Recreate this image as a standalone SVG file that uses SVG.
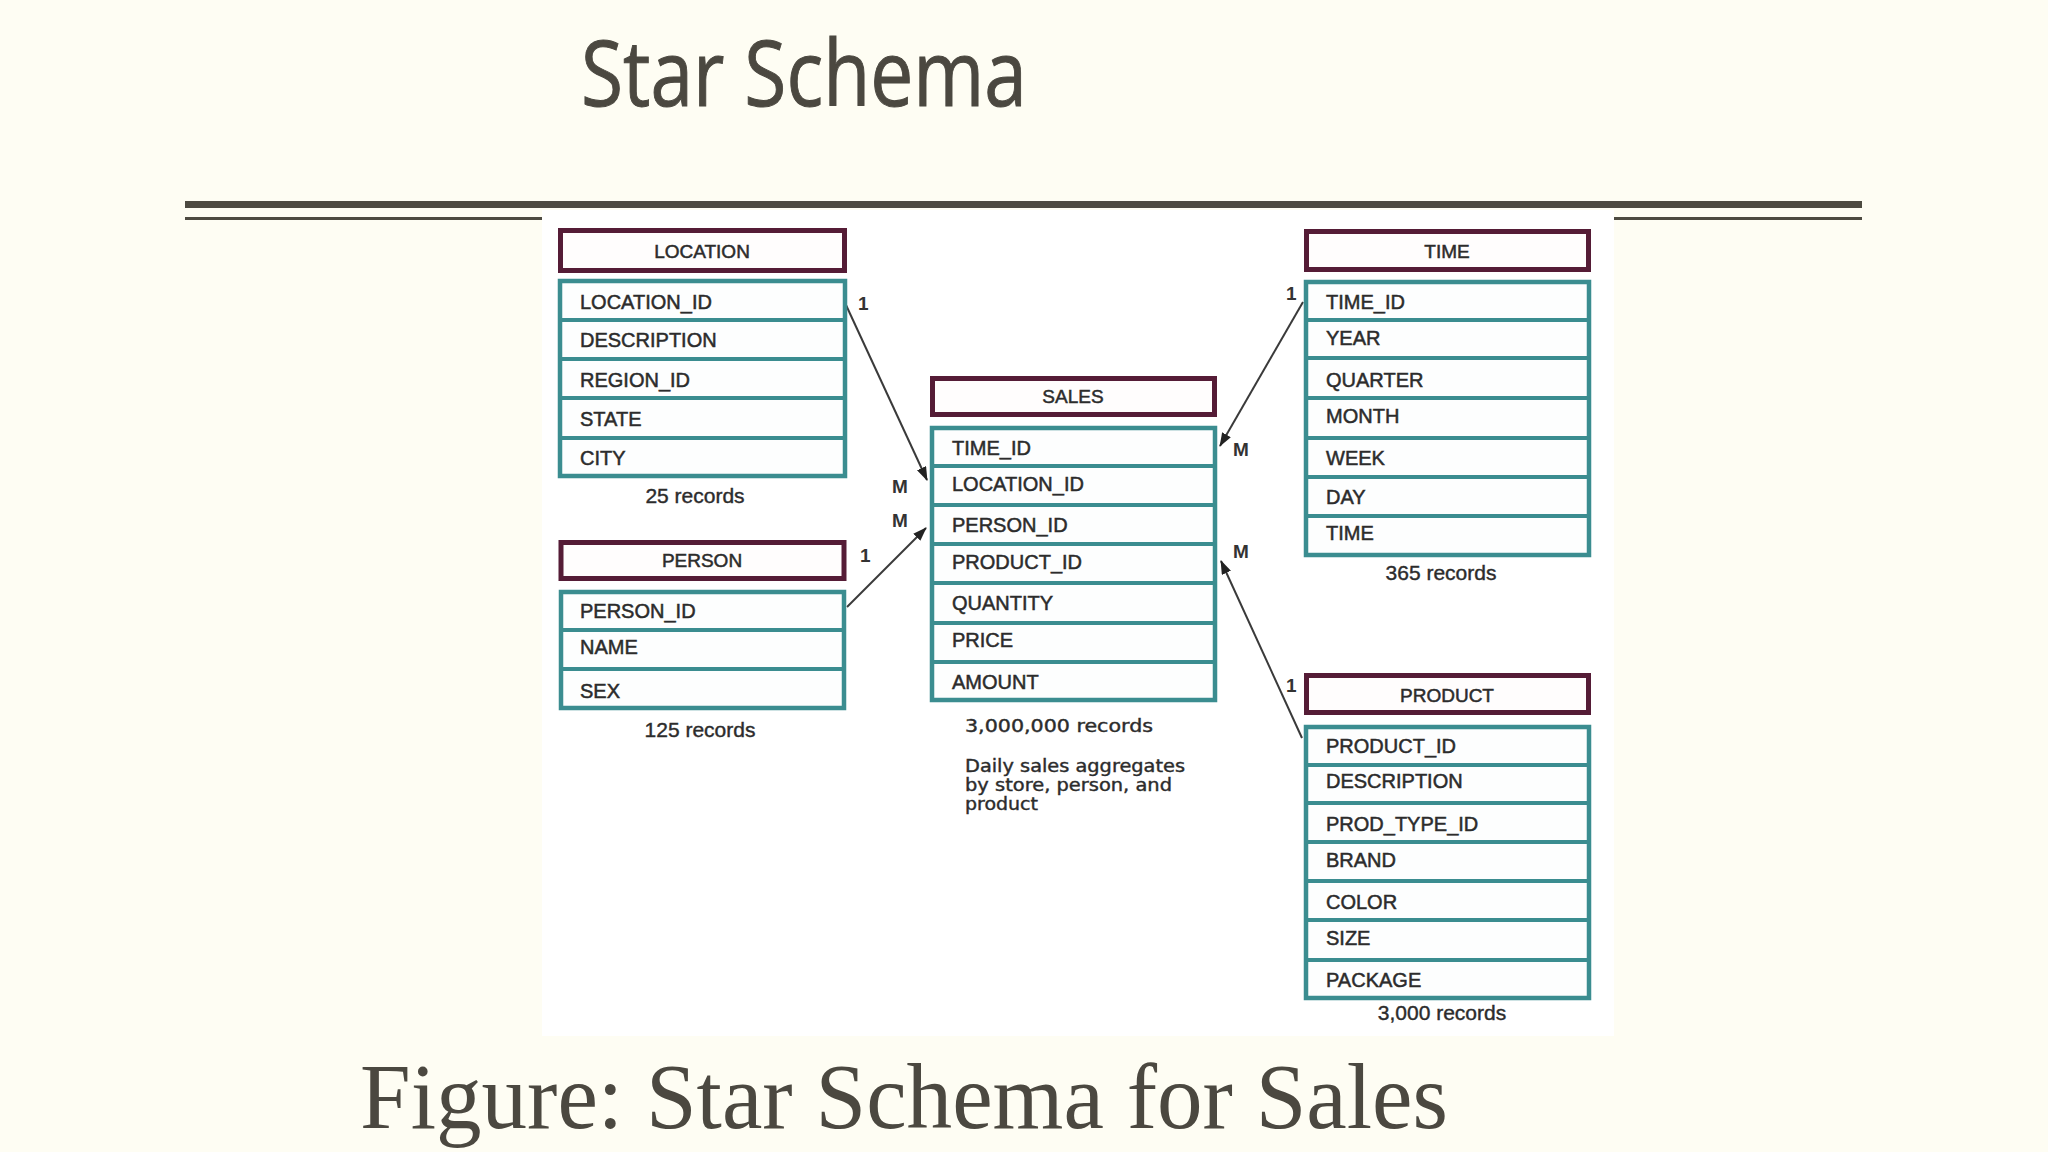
<svg xmlns="http://www.w3.org/2000/svg" width="2048" height="1152" viewBox="0 0 2048 1152">
<defs>
<style>
.hdr{fill:#fffdfd;stroke:#551c36;stroke-width:5}
.body{fill:#fdfefe;stroke:#3b8d90;stroke-width:4.5}
.div{stroke:#3b8d90;stroke-width:4}
.f{font-family:"Liberation Sans",Arial,sans-serif;font-size:20px;fill:#2c2c2c;stroke:#2c2c2c;stroke-width:0.5}
.h{font-family:"Liberation Sans",Arial,sans-serif;font-size:19px;fill:#2c2c2c;stroke:#2c2c2c;stroke-width:0.5;text-anchor:middle}
.rec{font-family:"Liberation Sans",Arial,sans-serif;font-size:21px;fill:#2c2c2c;stroke:#2c2c2c;stroke-width:0.4;text-anchor:middle}
.note{font-family:"DejaVu Sans",Arial,sans-serif;font-size:17px;fill:#2c2c2c;stroke:#2c2c2c;stroke-width:0.4}
.card{font-family:"Liberation Sans",Arial,sans-serif;font-size:19px;font-weight:bold;fill:#333}
.conn{stroke:#3a3a3a;stroke-width:2;fill:none}
</style>
<marker id="ah" markerWidth="14" markerHeight="10" refX="13" refY="5" orient="auto" markerUnits="userSpaceOnUse">
<path d="M0,0 L14,5 L0,10 Z" fill="#222"/>
</marker>
</defs>
<rect x="0" y="0" width="2048" height="1152" fill="#fefdf3"/>
<rect x="542" y="210" width="1072" height="826" fill="#ffffff"/>
<g id="title">
<text x="581" y="106" font-family="'Open Sans','Liberation Sans',sans-serif" font-size="92" fill="#4b4840" stroke="#4b4840" stroke-width="1" textLength="446" lengthAdjust="spacingAndGlyphs">Star Schema</text>
</g>
<g id="rules">
<rect x="185" y="201" width="1677" height="7" fill="#4d4a40"/>
<rect x="185" y="217" width="357" height="3" fill="#4d4a40"/>
<rect x="1614" y="217" width="248" height="3" fill="#4d4a40"/>
</g>

<g id="connectors">
<line class="conn" x1="846" y1="305" x2="927" y2="480" marker-end="url(#ah)"/>
<line class="conn" x1="847" y1="607" x2="926" y2="528" marker-end="url(#ah)"/>
<line class="conn" x1="1303" y1="302" x2="1220" y2="446" marker-end="url(#ah)"/>
<line class="conn" x1="1302" y1="738" x2="1221" y2="561" marker-end="url(#ah)"/>
<text class="card" x="858" y="310">1</text>
<text class="card" x="892" y="493">M</text>
<text class="card" x="860" y="562">1</text>
<text class="card" x="892" y="527">M</text>
<text class="card" x="1286" y="300">1</text>
<text class="card" x="1233" y="456">M</text>
<text class="card" x="1286" y="692">1</text>
<text class="card" x="1233" y="558">M</text>
</g>

<g id="location">
<rect class="hdr" x="560.5" y="230.5" width="284" height="40"/>
<text class="h" x="702" y="258">LOCATION</text>
<rect class="body" x="560" y="281" width="285" height="195"/>
<line class="div" x1="560" y1="320" x2="845" y2="320"/>
<line class="div" x1="560" y1="359" x2="845" y2="359"/>
<line class="div" x1="560" y1="398" x2="845" y2="398"/>
<line class="div" x1="560" y1="438" x2="845" y2="438"/>
<text class="f" x="580" y="309">LOCATION_ID</text>
<text class="f" x="580" y="347">DESCRIPTION</text>
<text class="f" x="580" y="387">REGION_ID</text>
<text class="f" x="580" y="426">STATE</text>
<text class="f" x="580" y="465">CITY</text>
<text class="rec" x="695" y="503">25 records</text>
</g>

<g id="person">
<rect class="hdr" x="561" y="542.5" width="283" height="36"/>
<text class="h" x="702" y="567">PERSON</text>
<rect class="body" x="561" y="592" width="283" height="116"/>
<line class="div" x1="561" y1="630" x2="844" y2="630"/>
<line class="div" x1="561" y1="669" x2="844" y2="669"/>
<text class="f" x="580" y="618">PERSON_ID</text>
<text class="f" x="580" y="654">NAME</text>
<text class="f" x="580" y="698">SEX</text>
<text class="rec" x="700" y="737">125 records</text>
</g>

<g id="sales">
<rect class="hdr" x="932.5" y="378.5" width="282" height="36"/>
<text class="h" x="1073" y="403">SALES</text>
<rect class="body" x="932" y="428" width="283" height="272"/>
<line class="div" x1="932" y1="466" x2="1215" y2="466"/>
<line class="div" x1="932" y1="505" x2="1215" y2="505"/>
<line class="div" x1="932" y1="544" x2="1215" y2="544"/>
<line class="div" x1="932" y1="583" x2="1215" y2="583"/>
<line class="div" x1="932" y1="623" x2="1215" y2="623"/>
<line class="div" x1="932" y1="662" x2="1215" y2="662"/>
<text class="f" x="952" y="455">TIME_ID</text>
<text class="f" x="952" y="491">LOCATION_ID</text>
<text class="f" x="952" y="532">PERSON_ID</text>
<text class="f" x="952" y="569">PRODUCT_ID</text>
<text class="f" x="952" y="610">QUANTITY</text>
<text class="f" x="952" y="647">PRICE</text>
<text class="f" x="952" y="689">AMOUNT</text>
<text class="note" x="965" y="732" font-size="20" textLength="188" lengthAdjust="spacingAndGlyphs">3,000,000 records</text>
<text class="note" x="965" y="772" textLength="220" lengthAdjust="spacingAndGlyphs">Daily sales aggregates</text>
<text class="note" x="965" y="791" textLength="207" lengthAdjust="spacingAndGlyphs">by store, person, and</text>
<text class="note" x="965" y="810" textLength="73" lengthAdjust="spacingAndGlyphs">product</text>
</g>

<g id="time">
<rect class="hdr" x="1306.5" y="231.5" width="282" height="38"/>
<text class="h" x="1447" y="258">TIME</text>
<rect class="body" x="1306" y="282" width="283" height="273"/>
<line class="div" x1="1306" y1="320" x2="1589" y2="320"/>
<line class="div" x1="1306" y1="358" x2="1589" y2="358"/>
<line class="div" x1="1306" y1="398" x2="1589" y2="398"/>
<line class="div" x1="1306" y1="438" x2="1589" y2="438"/>
<line class="div" x1="1306" y1="477" x2="1589" y2="477"/>
<line class="div" x1="1306" y1="516" x2="1589" y2="516"/>
<text class="f" x="1326" y="309">TIME_ID</text>
<text class="f" x="1326" y="345">YEAR</text>
<text class="f" x="1326" y="387">QUARTER</text>
<text class="f" x="1326" y="423">MONTH</text>
<text class="f" x="1326" y="465">WEEK</text>
<text class="f" x="1326" y="504">DAY</text>
<text class="f" x="1326" y="540">TIME</text>
<text class="rec" x="1441" y="580">365 records</text>
</g>

<g id="product">
<rect class="hdr" x="1306.5" y="675.5" width="282" height="37"/>
<text class="h" x="1447" y="702">PRODUCT</text>
<rect class="body" x="1306" y="727" width="283" height="271"/>
<line class="div" x1="1306" y1="765" x2="1589" y2="765"/>
<line class="div" x1="1306" y1="803" x2="1589" y2="803"/>
<line class="div" x1="1306" y1="842" x2="1589" y2="842"/>
<line class="div" x1="1306" y1="881" x2="1589" y2="881"/>
<line class="div" x1="1306" y1="920" x2="1589" y2="920"/>
<line class="div" x1="1306" y1="960" x2="1589" y2="960"/>
<text class="f" x="1326" y="753">PRODUCT_ID</text>
<text class="f" x="1326" y="788">DESCRIPTION</text>
<text class="f" x="1326" y="831">PROD_TYPE_ID</text>
<text class="f" x="1326" y="867">BRAND</text>
<text class="f" x="1326" y="909">COLOR</text>
<text class="f" x="1326" y="945">SIZE</text>
<text class="f" x="1326" y="987">PACKAGE</text>
<text class="rec" x="1442" y="1020">3,000 records</text>
</g>

<g id="caption">
<text x="360" y="1128" font-family="'Liberation Serif','Times New Roman',serif" font-size="94" fill="#4b4840" textLength="1088" lengthAdjust="spacingAndGlyphs">Figure: Star Schema for Sales</text>
</g>
</svg>
